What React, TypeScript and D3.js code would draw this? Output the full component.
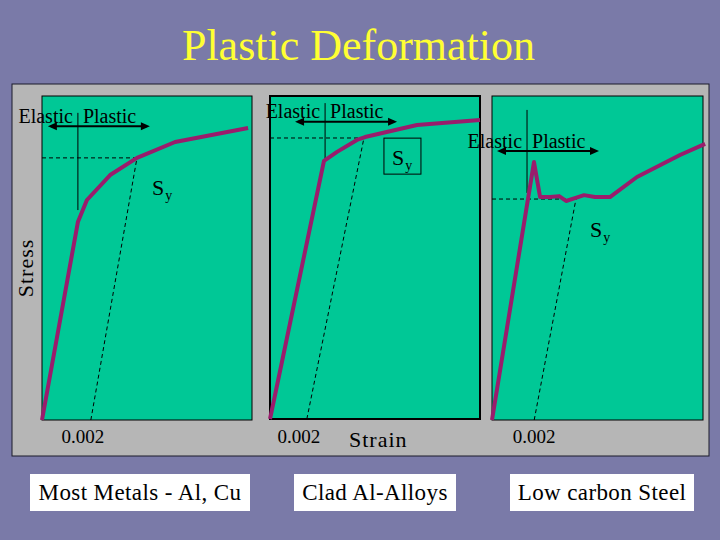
import React from "react";
import * as d3 from "d3";

// ---------- data ----------
const title = "Plastic Deformation";
const panelNames = ["Most Metals - Al, Cu", "Clad Al-Alloys", "Low carbon Steel"];
const strainMax = [0.0086, 0.0114, 0.01];
const stressMax = 100;

const metalsStrain = [0, 0.00147, 0.00184, 0.00279, 0.00389, 0.00545, 0.00844];
const metalsStress = [0, 61.1, 67.9, 75.6, 80.9, 85.8, 90.1];

const cladStrain = [0, 0.00293, 0.00364, 0.00472, 0.00516, 0.00798, 0.0114];
const cladStress = [0, 79.9, 82.7, 86.4, 87.3, 91.0, 92.6];

const steelStrain = [0, 0.00199, 0.00228, 0.00275, 0.00318, 0.00351, 0.00393, 0.00436, 0.00488, 0.00559, 0.00687, 0.00891, 0.0101];
const steelStress = [0, 79.6, 68.8, 68.8, 69.1, 67.6, 68.5, 69.4, 68.8, 68.8, 75.0, 81.8, 85.2];

const curveStrains = [metalsStrain, cladStrain, steelStrain];
const curveStresses = [metalsStress, cladStress, steelStress];

const offsetStrain = 0.002;
const tickLabel = "0.002";
const yieldStrain = [0.00389, 0.0051, 0.00398];
const yieldStress = [80.9, 87.0, 68.2];

const limitStrain = [0.00147, 0.00299, 0.00166];
const limitTop = [94.8, 97.8, 95.7];
const limitBottom = [64.8, 79.9, 70.1];
const arrowStress = [90.7, 92.0, 83.0];

const syStrain = [0.0045, 0.00662, 0.00464];
const syStress = [69.4, 78.6, 56.5];
const syBoxed = [false, true, false];

const xAxisTitle = "Strain";
const yAxisTitle = "Stress";

// ---------- layout ----------
const W = 720;
const H = 540;
const panels = [
  { x0: 42, x1: 252, y0: 96, y1: 420, bw: 1, tickShift: -8 },
  { x0: 270, x1: 480, y0: 96, y1: 419, bw: 2, tickShift: -8 },
  { x0: 492, x1: 703, y0: 96, y1: 420, bw: 1, tickShift: 0 },
];
const labelBoxes = [
  { x: 30, w: 220 },
  { x: 294, w: 162 },
  { x: 510, w: 184 },
];
const FONT = "'Liberation Serif', 'Times New Roman', serif";
const BG = "#7a7aa8";
const GRAY = "#b6b6b6";
const GREEN = "#00c896";
const CURVE = "#9a1c6c";

function Arrow({ x1, x2, y }: { x1: number; x2: number; y: number }) {
  const hl = 9;
  const hw = 4;
  return (
    <g>
      <line x1={x1 + 3} x2={x2 - 3} y1={y} y2={y} stroke="#000" strokeWidth={2} />
      <polygon points={`${x1},${y} ${x1 + hl},${y - hw} ${x1 + hl},${y + hw}`} fill="#000" />
      <polygon points={`${x2},${y} ${x2 - hl},${y - hw} ${x2 - hl},${y + hw}`} fill="#000" />
    </g>
  );
}

function Panel({ i }: { i: number }) {
  const p = panels[i];
  const x = d3.scaleLinear().domain([0, strainMax[i]]).range([p.x0, p.x1]);
  const y = d3.scaleLinear().domain([0, stressMax]).range([p.y1, p.y0]);
  const pts: [number, number][] = curveStrains[i].map((s, k) => [s, curveStresses[i][k]]);
  const line = d3
    .line<[number, number]>()
    .x((d) => x(d[0]))
    .y((d) => y(d[1]));
  const yx = x(yieldStrain[i]);
  const yy = y(yieldStress[i]);
  const dx = x(limitStrain[i]);
  const ay = y(arrowStress[i]);
  const sx = x(syStrain[i]);
  const sy = y(syStress[i]);
  return (
    <g>
      <rect x={p.x0} y={p.y0} width={p.x1 - p.x0} height={p.y1 - p.y0} fill={GREEN} />
      <line x1={x(0)} x2={yx} y1={yy} y2={yy} stroke="#000" strokeWidth={1} strokeDasharray="4,3" />
      <line x1={x(offsetStrain)} y1={y(0)} x2={yx} y2={yy} stroke="#000" strokeWidth={1} strokeDasharray="4,3" />
      <line x1={dx} x2={dx} y1={y(limitTop[i])} y2={y(limitBottom[i])} stroke="#000" strokeWidth={1} />
      <rect
        x={p.x0}
        y={p.y0}
        width={p.x1 - p.x0}
        height={p.y1 - p.y0}
        fill="none"
        stroke="#000"
        strokeWidth={p.bw}
      />
      <path d={line(pts) || ""} fill="none" stroke={CURVE} strokeWidth={4} strokeLinejoin="round" />
      <Arrow x1={dx - 30} x2={dx + 72} y={ay} />
      <text x={dx - 5} y={ay - 3.5} textAnchor="end" fontSize={20} fontFamily={FONT}>
        Elastic
      </text>
      <text x={dx + 5} y={ay - 3.5} fontSize={20} fontFamily={FONT}>
        Plastic
      </text>
      <text x={sx} y={sy} fontSize={22} fontFamily={FONT}>
        S
        <tspan dx={1} dy={5} fontSize={14}>
          y
        </tspan>
      </text>
      {syBoxed[i] && (
        <rect x={sx - 8} y={sy - 27} width={37} height={36} fill="none" stroke="#000" strokeWidth={1} />
      )}
      <text
        x={x(offsetStrain) + p.tickShift}
        y={443}
        textAnchor="middle"
        fontSize={19}
        fontFamily={FONT}
      >
        {tickLabel}
      </text>
      <rect x={labelBoxes[i].x} y={474} width={labelBoxes[i].w} height={37} fill="#fff" />
      <text
        x={labelBoxes[i].x + labelBoxes[i].w / 2}
        y={500}
        textAnchor="middle"
        fontSize={23}
        letterSpacing={0.4}
        fontFamily={FONT}
      >
        {panelNames[i]}
      </text>
    </g>
  );
}

export default function App() {
  return (
    <svg
      width={W}
      height={H}
      viewBox={`0 0 ${W} ${H}`}
      style={{ position: "fixed", left: 0, top: 0, display: "block" }}
    >
      <rect x={0} y={0} width={W} height={H} fill={BG} />
      <text x={358.5} y={60} textAnchor="middle" fontSize={44} fill="#ffff33" fontFamily={FONT}>
        {title}
      </text>
      <rect x={12} y={84} width={697} height={372} fill={GRAY} stroke="#1a1a2a" strokeWidth={1} />
      {panels.map((_, i) => (
        <Panel key={i} i={i} />
      ))}
      <text
        transform="translate(33,268) rotate(-90)"
        textAnchor="middle"
        fontSize={22}
        letterSpacing={1}
        fontFamily={FONT}
      >
        {yAxisTitle}
      </text>
      <text x={349} y={447} fontSize={22} letterSpacing={1} fontFamily={FONT}>
        {xAxisTitle}
      </text>
    </svg>
  );
}
